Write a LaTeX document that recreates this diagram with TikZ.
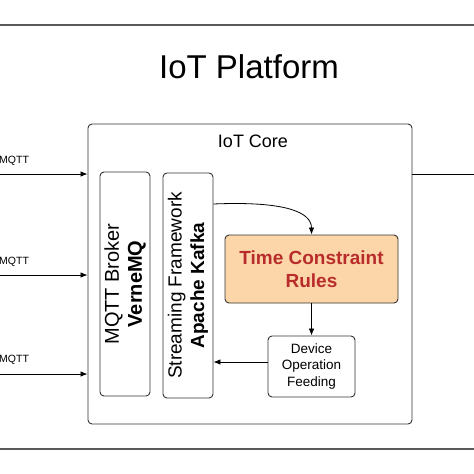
\documentclass[tikz,border=0pt]{standalone}
\usepackage{fontspec}
\setmainfont{Liberation Sans}
\usepackage{tikz}
\usetikzlibrary{arrows.meta}
\definecolor{rulefill}{RGB}{252,214,168}
\definecolor{rulered}{RGB}{184,44,44}
\definecolor{framegray}{RGB}{90,90,90}
\definecolor{boxgray}{RGB}{50,50,50}

\begin{document}
\begin{tikzpicture}[x=1pt,y=-1pt,
    box/.style={draw=boxgray,rounded corners=4pt,line width=0.9pt,inner sep=0pt},
    flow/.style={-{Latex[length=7pt,width=5.5pt]},line width=0.8pt},
    mqttlabel/.style={anchor=west,inner sep=0pt,font=\fontsize{10.5}{12}\selectfont}]
                    \useasboundingbox (0,0) rectangle (474,474);
                    \draw[framegray,line width=1.6pt] (0,25) -- (474,25);
                    \draw[framegray,line width=1.6pt] (0,449) -- (474,449);
                    \node (title) at (249,67) {\fontsize{33}{40}\selectfont IoT Platform};

                    \node[box,minimum width=324pt,minimum height=300pt] (core) at (250,274) {};
                    \node (corelabel) at (253,141) {\fontsize{18}{21}\selectfont IoT Core};

                    \node[box,minimum width=50pt,minimum height=224pt] (broker) at (125,284) {};
                    \node[rotate=90,align=center,font=\fontsize{20}{23}\selectfont] (brokertext) at (broker) {MQTT Broker\\\textbf{VerneMQ}};
                    \node[box,minimum width=50pt,minimum height=225pt] (kafka) at (188,285.5) {};
                    \node[rotate=90,align=center,font=\fontsize{19}{22.5}\selectfont] (kafkatext) at (kafka) {Streaming Framework\\\textbf{Apache Kafka}};

                    \node[box,fill=rulefill,minimum width=173pt,minimum height=68pt,align=center,text=rulered,font=\fontsize{19}{23}\selectfont\bfseries] (rules) at (311.5,269) {Time Constraint\\Rules};
                    \node[box,minimum width=87pt,minimum height=61pt,align=center,font=\fontsize{13.5}{16.5}\selectfont] (feed) at (311.5,366.5) {Device\\Operation\\Feeding};

                    \coordinate (in1) at (0,174);
                    \coordinate (in2) at (0,275);
                    \coordinate (in3) at (0,374);
                    \coordinate (out) at (474,174);
                    \coordinate (kafkaout) at (213,204);
                    \draw[flow] (in1) -- (in1 -| core.west);
                    \draw[flow] (in2) -- (in2 -| core.west);
                    \draw[flow] (in3) -- (in3 -| core.west);
                    \node[mqttlabel] at (-1,161) {MQTT};
                    \node[mqttlabel] at (-1,262) {MQTT};
                    \node[mqttlabel] at (-1,360) {MQTT};
                    \draw[line width=0.8pt] (out -| core.east) -- (out);

                    \draw[flow] (kafkaout -| kafka.east) .. controls (285,201) and (311.5,212) .. (rules.north);
                    \draw[flow] (rules) -- (feed);
                    \draw[flow] ([yshift=4.5pt]feed.west) -- ([yshift=4.5pt]feed.west -| kafka.east);
                \end{tikzpicture}
\end{document}
